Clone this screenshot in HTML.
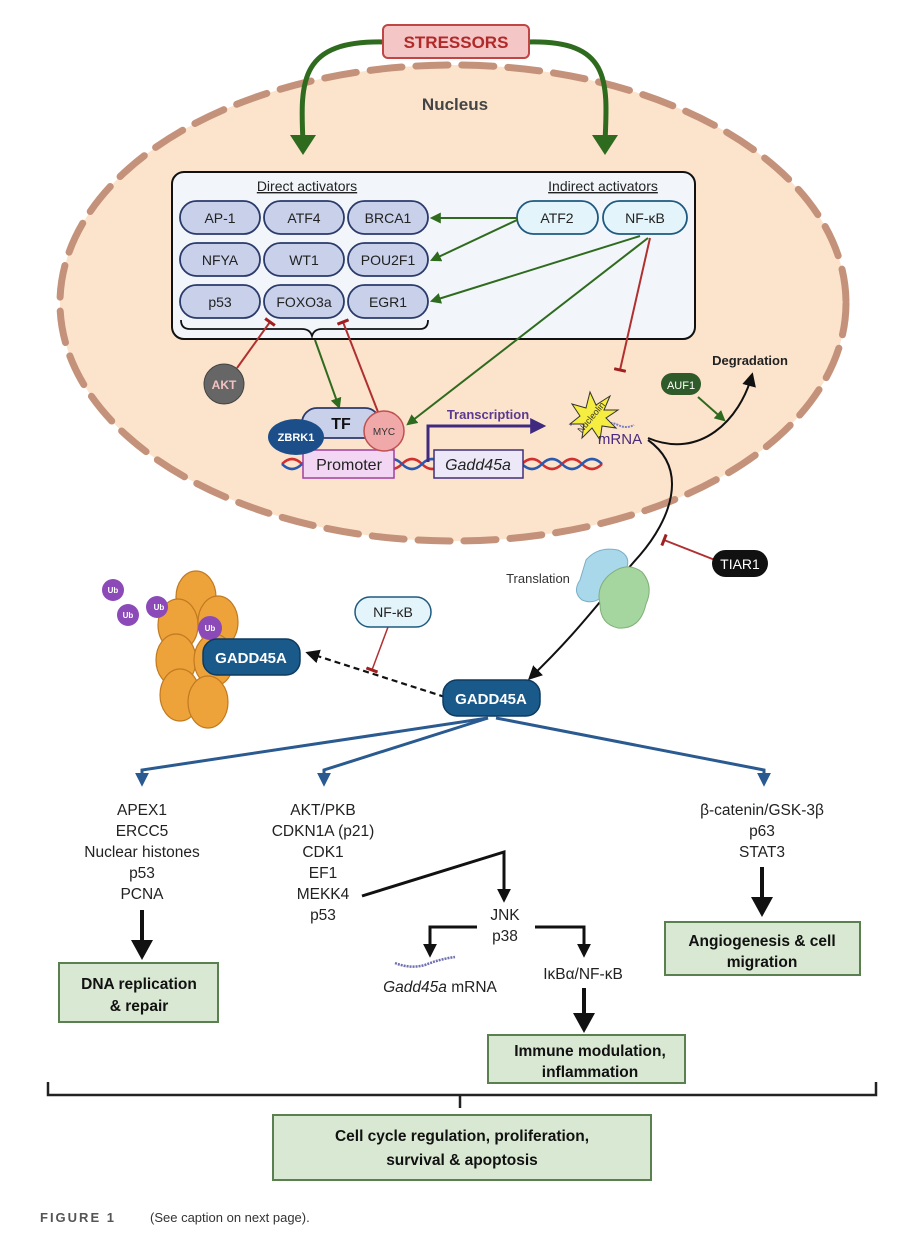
<!DOCTYPE html>
<html><head><meta charset="utf-8"><style>
html,body{margin:0;padding:0;background:#fff;}
svg{display:block;font-family:"Liberation Sans",sans-serif;}
</style></head><body>
<svg width="906" height="1236" viewBox="0 0 906 1236" xmlns="http://www.w3.org/2000/svg">
<defs>
<marker id="ag" viewBox="0 0 10 10" markerWidth="11" markerHeight="11" refX="8" refY="5" orient="auto" markerUnits="userSpaceOnUse"><path d="M0,0 L10,5 L0,10z" fill="#2f6b1f"/></marker>
<marker id="ak" viewBox="0 0 10 10" markerWidth="14" markerHeight="14" refX="8" refY="5" orient="auto" markerUnits="userSpaceOnUse"><path d="M0,0 L10,5 L0,10z" fill="#111"/></marker>
<marker id="ab" viewBox="0 0 10 10" markerWidth="14" markerHeight="14" refX="8" refY="5" orient="auto" markerUnits="userSpaceOnUse"><path d="M0,0 L10,5 L0,10z" fill="#2a5a90"/></marker>
<marker id="ap" viewBox="0 0 10 10" markerWidth="16" markerHeight="16" refX="8" refY="5" orient="auto" markerUnits="userSpaceOnUse"><path d="M0,0 L10,5 L0,10z" fill="#3f2a80"/></marker>
<marker id="tr" viewBox="0 0 10 10" markerWidth="12" markerHeight="12" refX="5" refY="5" orient="auto" markerUnits="userSpaceOnUse"><path d="M5,0 L5,10" stroke="#a02020" stroke-width="2.5"/></marker>
</defs>

<ellipse cx="453" cy="303" rx="393" ry="238" fill="#fce3cc"/>
<ellipse cx="453" cy="303" rx="393" ry="238" fill="none" stroke="#c4927a" stroke-width="7" stroke-dasharray="32 14" stroke-linecap="round"/>
<text x="455" y="110" font-size="17" font-weight="bold" fill="#444" text-anchor="middle">Nucleus</text>

<path d="M385,42 C300,40 300,80 303,142" fill="none" stroke="#2f6b1f" stroke-width="5"/>
<path d="M290,135 L316,135 L303,155z" fill="#2f6b1f"/>
<path d="M528,42 C610,40 608,80 605,142" fill="none" stroke="#2f6b1f" stroke-width="5"/>
<path d="M592,135 L618,135 L605,155z" fill="#2f6b1f"/>
<rect x="383" y="25" width="146" height="33" rx="5" fill="#f4c6c6" stroke="#c04545" stroke-width="2"/>
<text x="456" y="48" font-size="17" font-weight="bold" fill="#b02a2a" text-anchor="middle">STRESSORS</text>

<rect x="172" y="172" width="523" height="167" rx="12" fill="#f2f6fb" stroke="#111" stroke-width="2"/>
<text x="307" y="191" font-size="14" fill="#222" text-anchor="middle" text-decoration="underline">Direct activators</text>
<text x="603" y="191" font-size="14" fill="#222" text-anchor="middle" text-decoration="underline">Indirect activators</text>
<g font-size="14" fill="#222" text-anchor="middle" stroke-width="1.8">
<g fill="#c8d0ea" stroke="#2a3a6a">
<rect x="180" y="201" width="80" height="33" rx="16.5"/><rect x="264" y="201" width="80" height="33" rx="16.5"/><rect x="348" y="201" width="80" height="33" rx="16.5"/>
<rect x="180" y="243" width="80" height="33" rx="16.5"/><rect x="264" y="243" width="80" height="33" rx="16.5"/><rect x="348" y="243" width="80" height="33" rx="16.5"/>
<rect x="180" y="285" width="80" height="33" rx="16.5"/><rect x="264" y="285" width="80" height="33" rx="16.5"/><rect x="348" y="285" width="80" height="33" rx="16.5"/>
</g>
<g fill="#e3f4fa" stroke="#1e5a80"><rect x="517" y="201" width="81" height="33" rx="16.5"/><rect x="603" y="201" width="84" height="33" rx="16.5"/></g>
<g stroke="none">
<text x="220" y="223">AP-1</text><text x="304" y="223">ATF4</text><text x="388" y="223">BRCA1</text>
<text x="220" y="265">NFYA</text><text x="304" y="265">WT1</text><text x="388" y="265">POU2F1</text>
<text x="220" y="307">p53</text><text x="304" y="307">FOXO3a</text><text x="388" y="307">EGR1</text>
<text x="557" y="223">ATF2</text><text x="645" y="223">NF-κB</text>
</g></g>
<path d="M181,320 Q181,329 190,329 L302,329 Q310,329 312,336 Q314,329 322,329 L420,329 Q428,329 428,320" fill="none" stroke="#111" stroke-width="1.8"/>
<g stroke="#2f6b1f" stroke-width="2" fill="none">
<line x1="517" y1="218" x2="432" y2="218" marker-end="url(#ag)"/>
<line x1="517" y1="220" x2="432" y2="260" marker-end="url(#ag)"/>
<line x1="640" y1="236" x2="432" y2="301" marker-end="url(#ag)"/>
<line x1="648" y1="238" x2="408" y2="424" marker-end="url(#ag)"/>
<line x1="315" y1="340" x2="339" y2="407" marker-end="url(#ag)"/>
</g>
<g stroke="#b03030" stroke-width="2" fill="none">
<line x1="237" y1="368" x2="270" y2="322" marker-end="url(#tr)"/>
<line x1="378" y1="412" x2="343" y2="322" marker-end="url(#tr)"/>
<line x1="650" y1="238" x2="620" y2="370" marker-end="url(#tr)"/>
</g>
<circle cx="224" cy="384" r="20" fill="#666" stroke="#444"/>
<text x="224" y="389" font-size="12" font-weight="bold" fill="#f3c2c2" text-anchor="middle">AKT</text>

<path d="M282,464 q10,-10 20,0 t20,0 t20,0 t20,0 t20,0 t20,0 t20,0 t20,0 t20,0 t20,0 t20,0 t20,0 t20,0 t20,0 t20,0 t20,0" fill="none" stroke="#d03030" stroke-width="2.5"/>
<path d="M282,464 q10,10 20,0 t20,0 t20,0 t20,0 t20,0 t20,0 t20,0 t20,0 t20,0 t20,0 t20,0 t20,0 t20,0 t20,0 t20,0 t20,0" fill="none" stroke="#2a5ab0" stroke-width="2.5"/>
<rect x="303" y="450" width="91" height="28" fill="#f3d6f3" stroke="#a040a0" stroke-width="1.5"/>
<text x="349" y="470" font-size="16" fill="#222" text-anchor="middle">Promoter</text>
<rect x="434" y="450" width="89" height="28" fill="#ece8f8" stroke="#40307a" stroke-width="1.5"/>
<text x="478" y="470" font-size="16" font-style="italic" fill="#222" text-anchor="middle">Gadd45a</text>
<rect x="302" y="408" width="78" height="30" rx="15" fill="#c8d0ea" stroke="#2a3a6a" stroke-width="1.8"/>
<text x="341" y="429" font-size="16" font-weight="bold" fill="#111" text-anchor="middle">TF</text>
<ellipse cx="296" cy="437" rx="28" ry="18" fill="#1c4f8a"/>
<text x="296" y="441" font-size="11" font-weight="bold" fill="#fff" text-anchor="middle">ZBRK1</text>
<circle cx="384" cy="431" r="20" fill="#f0a8a8" stroke="#c05050" stroke-width="1.5"/>
<text x="384" y="435" font-size="10" fill="#333" text-anchor="middle">MYC</text>
<path d="M428,462 L428,426 L543,426" fill="none" stroke="#3f2a80" stroke-width="3" marker-end="url(#ap)"/>
<text x="488" y="419" font-size="13" font-weight="bold" fill="#5a3a90" text-anchor="middle">Transcription</text>
<path d="M570,425 q8,-4 16,0 t16,0 t16,0 t16,0" fill="none" stroke="#8080c0" stroke-width="2" stroke-dasharray="2 1"/>
<polygon points="590,392 596,405 610,396 604,410 618,410 606,418 616,428 602,426 600,440 592,428 582,438 584,424 570,424 580,416 572,404 586,408" fill="#f5ee40" stroke="#333" stroke-width="1"/>
<text x="592" y="420" font-size="9" fill="#333" text-anchor="middle" transform="rotate(-50 592 418)">Nucleolin</text>
<text x="620" y="444" font-size="15" fill="#4a2a80" text-anchor="middle">mRNA</text>
<path d="M648,438 C700,460 740,420 752,375" fill="none" stroke="#111" stroke-width="2" marker-end="url(#ak)"/>
<text x="750" y="365" font-size="13" font-weight="bold" fill="#222" text-anchor="middle">Degradation</text>
<rect x="661" y="373" width="40" height="22" rx="11" fill="#2f5a2a"/>
<text x="681" y="389" font-size="11" fill="#fff" text-anchor="middle">AUF1</text>
<line x1="698" y1="397" x2="724" y2="420" stroke="#2f6b1f" stroke-width="2" marker-end="url(#ag)"/>

<path d="M648,440 C690,470 670,520 640,555 C600,600 580,630 530,678" fill="none" stroke="#111" stroke-width="2" marker-end="url(#ak)"/>
<path d="M586,560 q12,-14 32,-10 q14,6 8,20 q-10,12 -20,22 q-10,14 -24,8 q-10,-8 -2,-20z" fill="#a8d8ea" stroke="#7ab0c8"/>
<path d="M608,576 q18,-16 34,-4 q12,14 4,32 q-6,26 -28,24 q-18,-4 -18,-24 q-4,-16 8,-28z" fill="#a6d6a0" stroke="#80b078"/>
<text x="538" y="583" font-size="13" fill="#333" text-anchor="middle">Translation</text>
<line x1="715" y1="560" x2="664" y2="540" stroke="#b03030" stroke-width="2" marker-end="url(#tr)"/>
<rect x="712" y="550" width="56" height="27" rx="13.5" fill="#111"/>
<text x="740" y="569" font-size="14" fill="#fff" text-anchor="middle">TIAR1</text>

<g fill="#eea23a" stroke="#c07a20" stroke-width="1.2">
<ellipse cx="196" cy="597" rx="20" ry="26"/><ellipse cx="178" cy="625" rx="20" ry="26"/><ellipse cx="218" cy="622" rx="20" ry="26"/>
<ellipse cx="176" cy="660" rx="20" ry="26"/><ellipse cx="214" cy="660" rx="20" ry="26"/><ellipse cx="180" cy="695" rx="20" ry="26"/><ellipse cx="208" cy="702" rx="20" ry="26"/>
</g>
<g fill="#8b4ab8"><circle cx="113" cy="590" r="11"/><circle cx="128" cy="615" r="11"/><circle cx="157" cy="607" r="11"/><circle cx="210" cy="628" r="12"/></g>
<g font-size="8" font-weight="bold" fill="#fff" text-anchor="middle"><text x="113" y="593">Ub</text><text x="128" y="618">Ub</text><text x="159" y="610">Ub</text><text x="210" y="631">Ub</text></g>
<rect x="203" y="639" width="97" height="36" rx="14" fill="#1a5a8a" stroke="#0e3a60" stroke-width="1.5"/>
<text x="251" y="663" font-size="15" font-weight="bold" fill="#fff" text-anchor="middle">GADD45A</text>
<line x1="445" y1="697" x2="308" y2="653" stroke="#111" stroke-width="2.2" stroke-dasharray="6 4" marker-end="url(#ak)"/>
<line x1="388" y1="627" x2="372" y2="670" stroke="#b03030" stroke-width="1.5" marker-end="url(#tr)"/>
<rect x="355" y="597" width="76" height="30" rx="15" fill="#e3f4fa" stroke="#1e5a80" stroke-width="1.5"/>
<text x="393" y="617" font-size="14" fill="#222" text-anchor="middle">NF-κB</text>
<rect x="443" y="680" width="97" height="36" rx="14" fill="#1a5a8a" stroke="#0e3a60" stroke-width="1.5"/>
<text x="491" y="704" font-size="15" font-weight="bold" fill="#fff" text-anchor="middle">GADD45A</text>

<g stroke="#2a5a90" stroke-width="3" fill="none">
<path d="M488,718 L142,770 L142,784" marker-end="url(#ab)"/>
<path d="M488,718 L324,770 L324,784" marker-end="url(#ab)"/>
<path d="M496,718 L764,770 L764,784" marker-end="url(#ab)"/>
</g>
<g font-size="15.5" fill="#222" text-anchor="middle">
<text x="142" y="815">APEX1</text><text x="142" y="836">ERCC5</text><text x="142" y="857">Nuclear histones</text><text x="142" y="878">p53</text><text x="142" y="899">PCNA</text>
<text x="323" y="815">AKT/PKB</text><text x="323" y="836">CDKN1A (p21)</text><text x="323" y="857">CDK1</text><text x="323" y="878">EF1</text><text x="323" y="899">MEKK4</text><text x="323" y="920">p53</text>
<text x="762" y="815">β-catenin/GSK-3β</text><text x="762" y="836">p63</text><text x="762" y="857">STAT3</text>
<text x="505" y="920">JNK</text><text x="505" y="941">p38</text>
<text x="583" y="979">IκBα/NF-κB</text>
<text x="440" y="992"><tspan font-style="italic">Gadd45a</tspan> mRNA</text>
</g>
<path d="M362,896 L504,852 L504,900" fill="none" stroke="#111" stroke-width="3" marker-end="url(#ak)"/>
<path d="M477,927 L430,927 L430,955" fill="none" stroke="#111" stroke-width="3" marker-end="url(#ak)"/>
<path d="M535,927 L584,927 L584,955" fill="none" stroke="#111" stroke-width="3" marker-end="url(#ak)"/>
<path d="M395,963 q15,6 30,2 q15,-6 30,-8" fill="none" stroke="#7070b0" stroke-width="2.5" stroke-dasharray="2 1"/>
<g stroke="#111" stroke-width="4"><line x1="142" y1="910" x2="142" y2="945"/><line x1="762" y1="867" x2="762" y2="902"/><line x1="584" y1="988" x2="584" y2="1018"/></g>
<g fill="#111"><path d="M131,940 L153,940 L142,960z"/><path d="M751,897 L773,897 L762,917z"/><path d="M573,1013 L595,1013 L584,1033z"/></g>

<g fill="#d9e8d2" stroke="#5a8050" stroke-width="2">
<rect x="59" y="963" width="159" height="59"/><rect x="665" y="922" width="195" height="53"/>
<rect x="488" y="1035" width="197" height="48"/><rect x="273" y="1115" width="378" height="65"/>
</g>
<g font-size="15.5" font-weight="bold" fill="#111" text-anchor="middle">
<text x="139" y="989">DNA replication</text><text x="139" y="1011">&amp; repair</text>
<text x="762" y="946">Angiogenesis &amp; cell</text><text x="762" y="967">migration</text>
<text x="590" y="1056">Immune modulation,</text><text x="590" y="1077">inflammation</text>
<text x="462" y="1141">Cell cycle regulation, proliferation,</text><text x="462" y="1165">survival &amp; apoptosis</text>
</g>
<path d="M48,1082 L48,1095 L876,1095 L876,1082 M460,1095 L460,1108" fill="none" stroke="#222" stroke-width="2.5"/>

<text x="40" y="1222" font-size="13" font-weight="bold" fill="#555" letter-spacing="2">FIGURE 1</text>
<text x="150" y="1222" font-size="13" fill="#333">(See caption on next page).</text>
</svg>
</body></html>
